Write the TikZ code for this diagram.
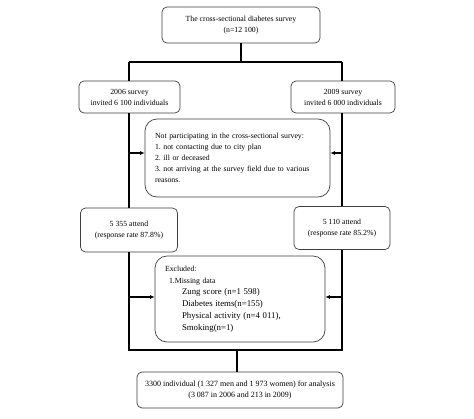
\documentclass[tikz,border=0pt]{standalone}
\usepackage{fontspec}
\setmainfont{Liberation Serif}
\usetikzlibrary{arrows.meta}
\frenchspacing
\begin{document}
\begin{tikzpicture}[x=1pt,y=-1pt,
  box/.style={draw=black!75, line width=0.7pt, rounded corners=5pt, align=center,
    font=\fontsize{7.8}{11}\selectfont, inner sep=0pt},
  bigbox/.style={box, rounded corners=12pt, align=left},
  conn/.style={line width=1.3pt, black},
  arr/.style={conn, -{Latex[length=4.5pt,width=4pt]}}]
\fill[white] (0,0) rectangle (474,418);
\useasboundingbox (0,0) rectangle (474,418);
\node[box, minimum width=158pt, minimum height=36pt] (top) at (241,25)
  {The cross-sectional diabetes survey\\(n=12 100)};
\node[box, minimum width=101pt, minimum height=32pt] (s06) at (129.5,97)
  {2006 survey\\invited 6 100 individuals};
\node[box, minimum width=104pt, minimum height=32pt] (s09) at (343,97)
  {2009 survey\\invited 6 000 individuals};
\node[bigbox, text width=165pt, inner xsep=10pt, minimum height=78pt] (np) at (237.5,158)
  {Not participating in the cross-sectional survey:\\
   1. not contacting due to city plan\\
   2. ill or deceased\\
   3. not arriving at the survey field due to various\\
   reasons.};
\node[box, minimum width=97pt, minimum height=44pt] (a06) at (129,230)
  {5 355 attend\\(response rate 87.8\%)};
\node[box, minimum width=96pt, minimum height=43pt] (a09) at (342,228)
  {5 110 attend\\(response rate 85.2\%)};
\node[bigbox, text width=150pt, inner xsep=10pt, minimum height=86pt,
  font=\fontsize{7.8}{11.8}\selectfont] (ex) at (240,299)
  {Excluded:\\
   \hspace*{4pt}1.Missing data\\
   \hspace*{17pt}{\fontsize{8.8}{11.8}\selectfont Zung score (n=1 598)}\\
   \hspace*{17pt}{\fontsize{8.8}{11.8}\selectfont Diabetes items(n=155)}\\
   \hspace*{17pt}{\fontsize{8.8}{11.8}\selectfont Physical activity (n=4 011),}\\
   \hspace*{17pt}{\fontsize{8.8}{11.8}\selectfont Smoking(n=1)}};
\node[box, minimum width=206pt, minimum height=36pt, font=\fontsize{8}{11}\selectfont] (fin) at (240,390)
  {3300 individual (1 327 men and 1 973 women) for analysis\\(3 087 in 2006 and 213 in 2009)};
% free points
\coordinate (tj) at (241,62);
\coordinate (tl) at (129,62);
\coordinate (tr) at (342,62);
\coordinate (l1) at (129,153);
\coordinate (r1) at (342,153);
\coordinate (l2) at (129,297);
\coordinate (r2) at (342,297);
\coordinate (bl) at (129,350);
\coordinate (br) at (342,350);
\coordinate (bj) at (237,350);
% connectors
\draw[conn] (top.south -| tj) -- (tj);
\draw[conn] (tl) -- (tr);
\draw[conn] (tl) -- (tl |- s06.north);
\draw[conn] (tr) -- (tr |- s09.north);
\draw[conn] (tl |- s06.south) -- (tl |- a06.north);
\draw[conn] (tr |- s09.south) -- (tr |- a09.north);
\draw[conn] (tl |- a06.south) -- (bl) -- (br) -- (tr |- a09.south);
\draw[arr] (l1) -- (np.west |- l1);
\draw[arr] (r1) -- (np.east |- r1);
\draw[arr] (l2) -- (ex.west |- l2);
\draw[arr] (r2) -- (ex.east |- r2);
\draw[conn] (bj) -- (bj |- fin.north);
\end{tikzpicture}
\end{document}
